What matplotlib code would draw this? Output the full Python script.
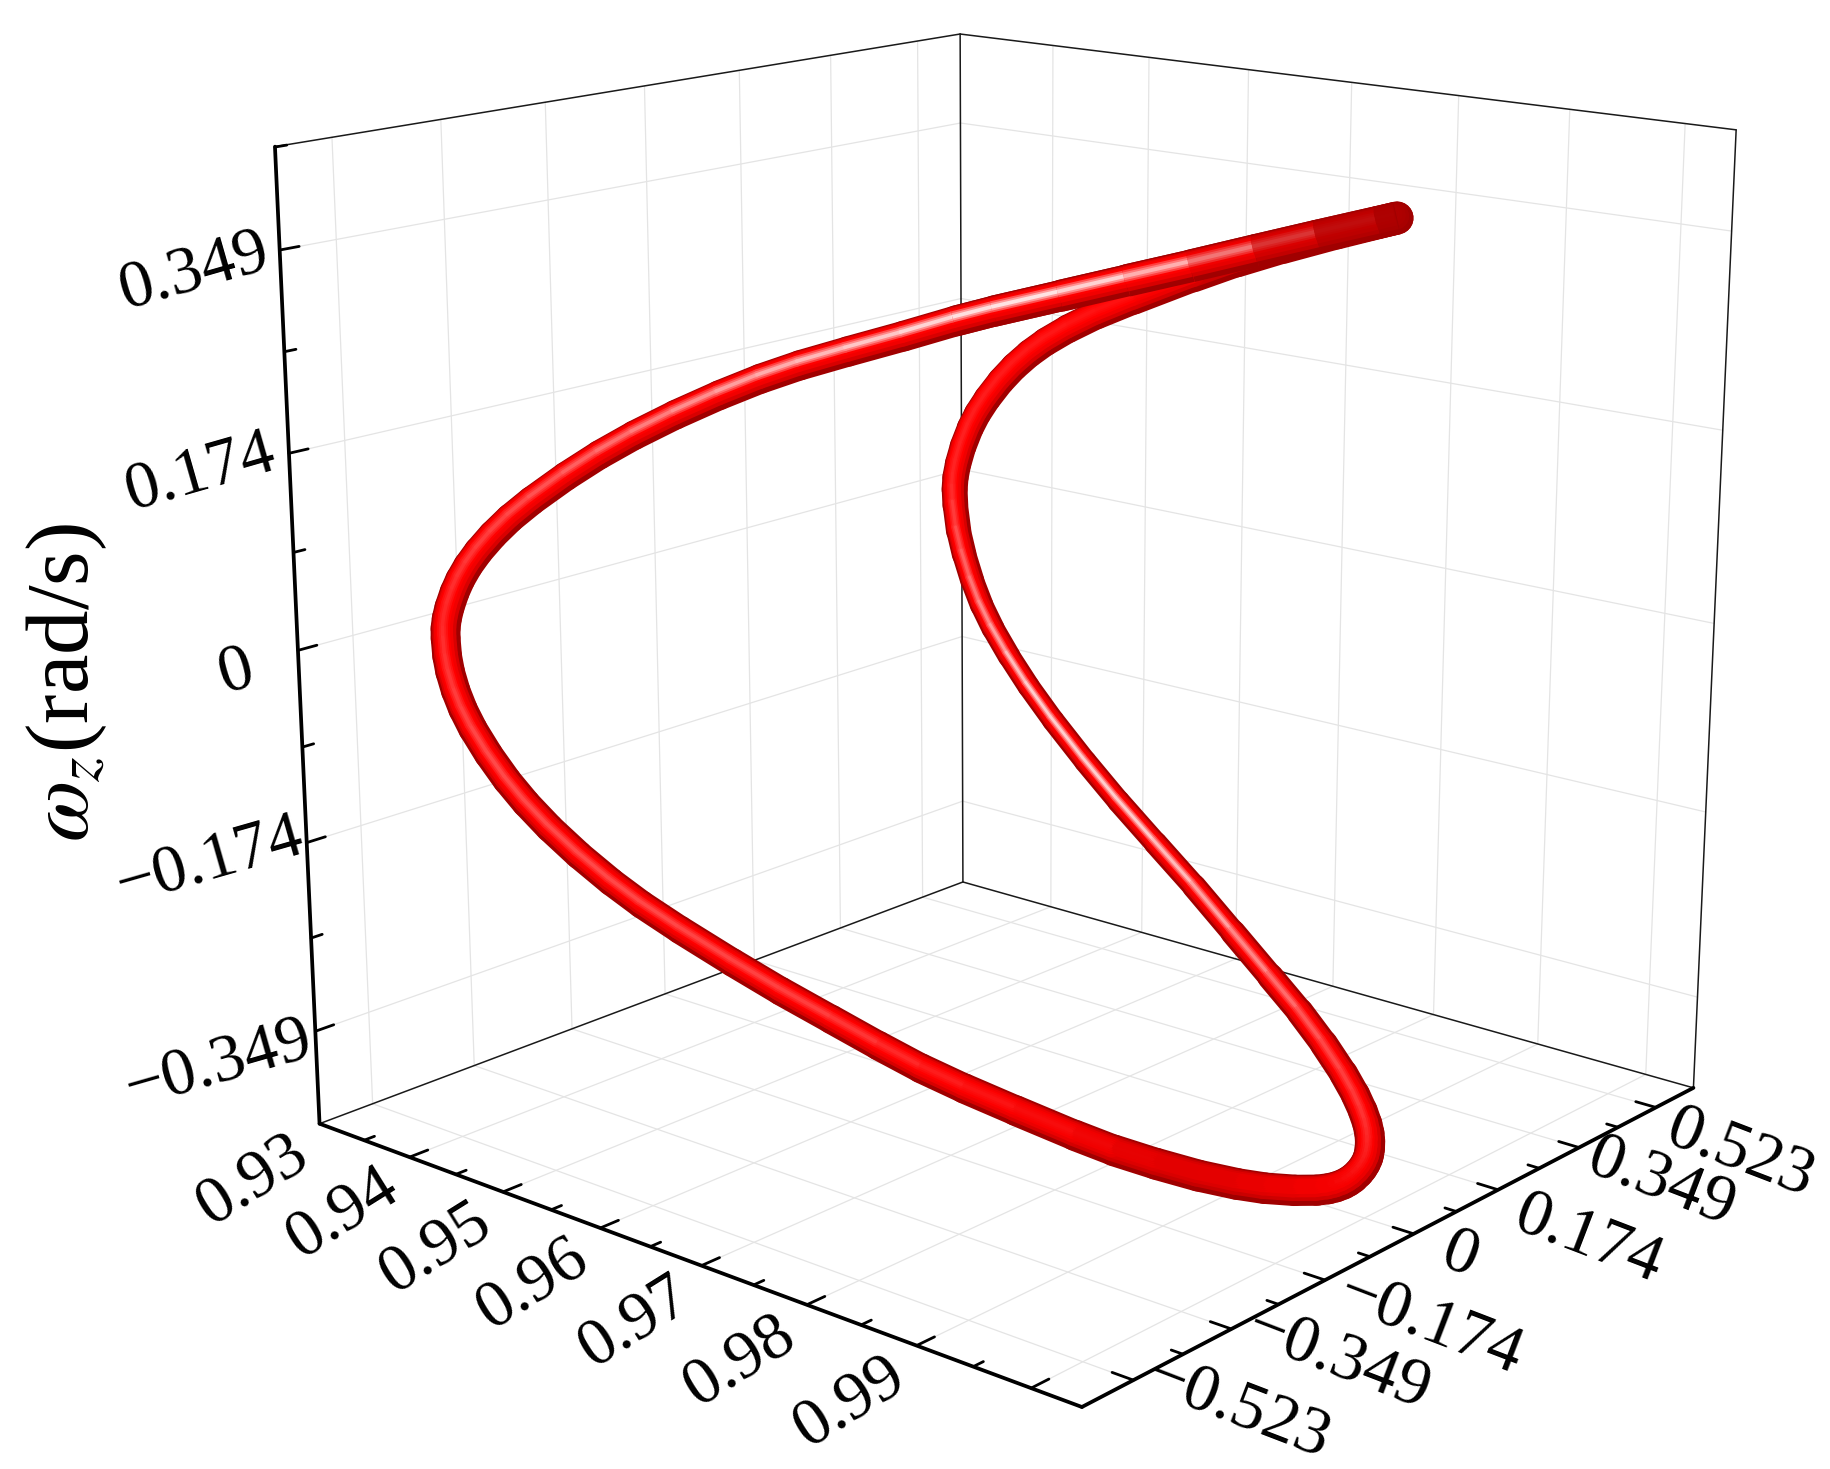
import numpy as np
import matplotlib
matplotlib.use("Agg")
import matplotlib.pyplot as plt
from matplotlib import patheffects as pe
from matplotlib.colors import to_rgb
from mpl_toolkits.mplot3d import proj3d
from mpl_toolkits.mplot3d.art3d import Line3DCollection

plt.rcParams["font.family"] = ["Liberation Serif", "DejaVu Serif"]
plt.rcParams["mathtext.fontset"] = "stix"

W, H = 1830, 1469

# trajectory, values in 1e-4 rad/s (wx counted from 0.9)
wx_e4 = [809,800,792,785,774,755,739,724,711,700,689,680,670,661,652,642,633,625,618,610,605,607,612,620,635,654,673,695,726,763,801,836,872,912,936,952,964,971,976,980,982,984,985,986,986,986,986,985,983,982,980,977,973,967,954,934,915,887,852,814,778,720,669,623,580,523,485,457,430,411,396,381,369,360,353,347,342,339,338,337,338,341,343,346,349,354,358,364,371,379,389,400,417,435,453,475,497,515,533,555,580,608,635,680,721,757,786,804,817,821]
wy_e4 = [4633,3586,2672,1917,1312,571,204,-27,-182,-263,-324,-399,-454,-461,-423,-367,-288,-186,-70,94,249,313,372,394,320,256,257,292,290,183,122,144,142,16,79,208,345,431,473,479,480,451,426,387,368,322,262,213,148,77,21,-56,-117,-216,-360,-508,-637,-798,-882,-905,-927,-905,-897,-850,-850,-701,-969,-1365,-1853,-2216,-2501,-2813,-3117,-3365,-3569,-3775,-3947,-4055,-4150,-4216,-4270,-4330,-4355,-4374,-4367,-4350,-4312,-4265,-4192,-4069,-3932,-3737,-3424,-3138,-2834,-2488,-2098,-1692,-1304,-838,-282,145,347,704,1132,1619,2254,3101,4048,4353]
wz_e4 = [3418,3377,3331,3279,3194,3048,2934,2815,2699,2590,2465,2333,2171,2025,1880,1691,1512,1362,1227,1046,782,566,324,117,-53,-254,-487,-752,-1051,-1305,-1578,-1881,-2197,-2459,-2719,-2986,-3248,-3433,-3573,-3679,-3759,-3817,-3878,-3918,-3948,-3986,-4017,-4050,-4090,-4107,-4126,-4143,-4159,-4169,-4180,-4192,-4186,-4163,-4148,-4141,-4110,-4065,-4015,-3972,-3885,-3830,-3612,-3336,-3002,-2742,-2513,-2241,-1961,-1709,-1476,-1214,-962,-771,-588,-406,-253,-74,24,122,231,374,489,618,751,897,1046,1197,1405,1592,1759,1936,2099,2225,2329,2433,2546,2676,2784,2949,3099,3229,3338,3404,3448,3462]

x_ticks = [0.93, 0.94, 0.95, 0.96, 0.97, 0.98, 0.99, 1.00]
x_labels = ["0.93", "0.94", "0.95", "0.96", "0.97", "0.98", "0.99"]
x_minor = [0.935, 0.945, 0.955, 0.965, 0.975, 0.985, 0.995]
y_ticks = [-0.523, -0.349, -0.174, 0, 0.174, 0.349, 0.523]
y_labels = ["\u22120.523", "\u22120.349", "\u22120.174", "0", "0.174", "0.349", "0.523"]
y_minor = [-0.436, -0.262, -0.087, 0.087, 0.262, 0.436]
z_ticks = [-0.349, -0.174, 0, 0.174, 0.349]
z_labels = ["\u22120.349", "\u22120.174", "0", "0.174", "0.349"]
z_minor = [-0.262, -0.087, 0.087, 0.262, 0.436]
x0, x1, y0, y1, z0, z1 = 0.93, 1.0043, -0.6109, 0.6109, -0.4363, 0.4363

# tube look along the path (distance along the curve in pixels)
style_s = [0,60,150,243,395,485,555,636,700,772,956,1100,1141,1240,1324,1413,1528,1600,1667,1812,1944,2177,2398,2531,2712,2948,3190,3290,3395,3460,3510,3540,3598]
width_px = [33,33,32,30,28,27,26,24,23,22,23,25,26,28,30,31,32,32,31,30,29,28,29,30,29,30,31,32,33,33,33,33,33]
glow_s = [0,0,0,.05,.1,.12,.15,.4,.6,.85,.85,.6,.5,.3,.2,0,0,0,.03,.1,.25,.3,.3,.15,.35,.7,.95,.9,.6,.3,.1,.05,0]
dim_s = [.9,.7,.4,0,0,0,0,0,0,0,0,0,0,0,0,.1,.3,.3,.1,0,0,0,0,0,0,0,0,0,0,.3,.5,.6,.9]

wx = 0.9 + np.array(wx_e4) * 1e-4
wy = np.array(wy_e4) * 1e-4
wz = np.array(wz_e4) * 1e-4

fig = plt.figure(figsize=(W / 100, H / 100), dpi=100)
ax = fig.add_axes([0.08015, -0.02361, 0.92252, 1.14922], projection="3d", computed_zorder=False)
ax.set_xlim(x0, x1)
ax.set_ylim(y0, y1)
ax.set_zlim(z0, z1)
ax.view_init(elev=15.8395, azim=-49.4174)
ax.set_proj_type("persp", focal_length=0.488)
ax.set_box_aspect((1, 0.9851, 0.9935))
ax.set_axis_off()
ax.patch.set_visible(False)
M = ax.get_proj()


def seg(a, b, **kw):
    ax.plot([a[0], b[0]], [a[1], b[1]], [a[2], b[2]], clip_on=False, solid_capstyle="round", **kw)


grid = dict(color="#e4e4e4", lw=0.9, zorder=1)
thin = dict(color="#1a1a1a", lw=1.1, zorder=2)
bold = dict(color="black", lw=2.7, zorder=4)
tick = dict(color="black", lw=2.0, zorder=4)

for v in y_ticks:
    seg((x0, v, z0), (x0, v, z1), **grid)
    seg((x0, v, z0), (x1, v, z0), **grid)
for v in x_ticks[1:]:
    seg((v, y1, z0), (v, y1, z1), **grid)
    seg((v, y0, z0), (v, y1, z0), **grid)
for v in z_ticks:
    seg((x0, y0, v), (x0, y1, v), **grid)
    seg((x0, y1, v), (x1, y1, v), **grid)

# box edges
seg((x0, y0, z0), (x0, y1, z0), **thin)
seg((x0, y1, z0), (x1, y1, z0), **thin)
seg((x0, y1, z0), (x0, y1, z1), **thin)
seg((x0, y0, z1), (x0, y1, z1), **thin)
seg((x0, y1, z1), (x1, y1, z1), **thin)
seg((x1, y1, z0), (x1, y1, z1), **thin)

seg((x0, y0, z0), (x1, y0, z0), **bold)
seg((x1, y0, z0), (x1, y1, z0), **bold)
seg((x0, y0, z0), (x0, y0, z1), **bold)

for v in x_ticks[1:]:
    seg((v, y0, z0), (v, y0 + 0.03, z0), **tick)
for v in x_minor:
    seg((v, y0, z0), (v, y0 + 0.017, z0), **tick)
for v in y_ticks:
    seg((x1, v, z0), (x1 - 0.0018, v, z0), **tick)
for v in y_minor:
    seg((x1, v, z0), (x1 - 0.001, v, z0), **tick)
for v in z_ticks:
    seg((x0, y0, v), (x0, y0 + 0.03, v), **tick)
for v in z_minor:
    seg((x0, y0, v), (x0, y0 + 0.018, v), **tick)


def label(x, y, z, text, off, rot):
    u, v, _ = proj3d.proj_transform(x, y, z, M)
    ax.annotate(text, xy=(u, v), xycoords="data", xytext=off, textcoords="offset pixels",
                fontsize=49, rotation=rot, rotation_mode="anchor", ha="center", va="center",
                annotation_clip=False, zorder=5)


for v, t in zip(x_ticks, x_labels):
    label(v, y0, z0, t, (-67, -57), 32)
y_offs = [(105, -29), (107, -31), (105, -45), (46, -22), (90, -51), (82, -36), (84, -47)]
for v, t, o in zip(y_ticks, y_labels, y_offs):
    label(x1, v, z0, t, o, -21)
z_offs = [(-96, -34), (-97, -20), (-62, -23), (-89, -20), (-85, -23)]
for v, t, o in zip(z_ticks, z_labels, z_offs):
    label(x0, y0, v, t, o, 16)

fig.text(67 / W, 1 - 682 / H, r"$\omega_z$(rad/s)", fontsize=64, rotation=90, ha="center", va="center")

# red tube: stacked strokes, shifted up and left so the light falls from there
pts = np.column_stack([wx, wy, wz])
u, v, _ = proj3d.proj_transform(wx, wy, wz, M)
path_s = np.r_[0, np.cumsum(np.hypot(np.diff(u), np.diff(v)))]
path_s = path_s / path_s[-1] * style_s[-1]
widths = np.interp(path_s, style_s, width_px)
glow = np.interp(path_s, style_s, glow_s)
dim = np.interp(path_s, style_s, dim_s)
dark = np.array(to_rgb("#a00000"))
mid1 = np.array(to_rgb("#d80000"))
mid2 = np.array(to_rgb("#f20000"))
red = np.array(to_rgb("#ff0000"))
white = np.array([1.0, 1.0, 1.0])


def tube(i0, i1, cap, z):
    segs = np.stack([pts[i0:i1 - 1], pts[i0 + 1:i1]], axis=1)
    w = 0.5 * (widths[i0:i1 - 1] + widths[i0 + 1:i1]) * 0.72
    g = 0.5 * (glow[i0:i1 - 1] + glow[i0 + 1:i1])[:, None]
    d = 0.5 * (dim[i0:i1 - 1] + dim[i0 + 1:i1])[:, None]
    base = dark + (red - dark) * (1 - d)
    layers = [
        (1.00, (0.0, 0.0), np.tile(dark, (len(w), 1))),
        (0.80, (-0.9, 1.3), dark + (mid1 - dark) * (1 - d)),
        (0.64, (-1.5, 2.1), dark + (mid2 - dark) * (1 - d)),
        (0.48, (-2.0, 2.7), base),
        (0.36, (-2.2, 3.0), base + (white - red) * g * 0.35),
        (0.24, (-2.2, 3.0), base + (white - red) * g * 0.65),
        (0.12, (-2.2, 3.0), base + (white - red) * g * 0.95),
    ]
    for k, (frac, off, col) in enumerate(layers):
        lc = Line3DCollection(segs, linewidths=w * frac, colors=np.clip(col, 0, 1), capstyle=cap,
                              zorder=z + k * 0.01, path_effects=[pe.Stroke(offset=off)])
        lc.set_clip_on(False)
        ax.add_collection3d(lc)


tube(0, len(pts), "round", 3)
# upper strand again so it stays in front where the two strands meet
tube(int(np.searchsorted(path_s, 3100)), len(pts), "butt", 3.5)

fig.savefig("out.png", dpi=100)
